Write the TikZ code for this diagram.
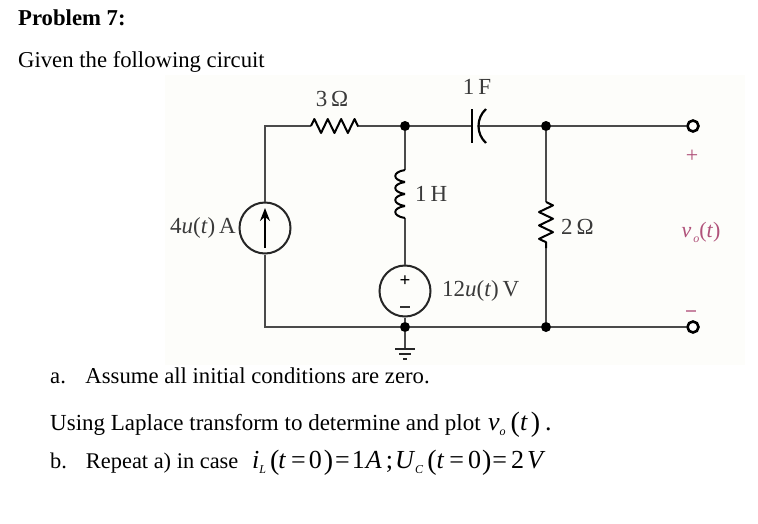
\documentclass[tikz,border=0pt]{standalone}
\usepackage{fontspec}
\setmainfont{Liberation Serif}
\usetikzlibrary{positioning,arrows.meta,decorations.pathmorphing}
\definecolor{wire}{HTML}{4A4A4A}
\definecolor{labelgrey}{HTML}{3A3A3A}
\definecolor{outputred}{HTML}{B0527A}
\definecolor{paper}{HTML}{FDFDFA}
\newcommand{\lowidx}[1]{\raisebox{-5pt}{\fontsize{12}{12}\selectfont\textit{#1}}}
\newcommand{\tallparen}[1]{\raisebox{-1pt}{\fontsize{28}{28}\selectfont #1}}
\newcommand{\gap}[1]{\hspace{#1pt}}

\begin{document}
\begin{tikzpicture}[
        x=1pt,y=-1pt,
        body/.style={anchor=base west,inner sep=0pt,font=\fontsize{22.7}{24}\selectfont},
        heading/.style={body,font=\fontsize{22.7}{24}\selectfont\bfseries},
        formula/.style={anchor=base west,inner sep=0pt,font=\fontsize{26}{28}\selectfont},
        value/.style={inner sep=0pt,text=labelgrey,font=\fontsize{23}{26}\selectfont},
        output/.style={inner sep=0pt,text=outputred,font=\fontsize{22}{24}\selectfont},
        wirepath/.style={draw=wire,line width=2pt},
        joint/.style={circle,fill=black,inner sep=0pt,minimum size=10pt},
        terminal/.style={circle,draw=black,fill=white,line width=2.6pt,inner sep=0pt,minimum size=11pt},
        source/.style={circle,draw=black!85,line width=2pt,inner sep=0pt,minimum size=51pt},
        resistor/.style={draw=black,line width=2pt,line join=round,decorate,
            decoration={zigzag,segment length=13.4pt,amplitude=7pt}},
        inductor/.style={draw=black,line width=2pt,line join=round}
    ]
        \useasboundingbox (0,0) rectangle (758,523);
        \fill[paper] (165,75) rectangle (745,365);

        % Text
        \node (problem) at (18,25) [heading] {Problem 7:};
        \node (given) at (18,67) [body] {Given the following circuit};
        \node (parta) at (50,383) [body] {a.\gap{19.5}Assume all initial conditions are zero.};
        \node (using) at (50,430) [body,font=\fontsize{23}{24}\selectfont] {Using Laplace transform to determine and plot};
        \node (voft) at (488,430) [formula] {\textit{v}\lowidx{o}\gap{5}\tallparen{(}\textit{t}\gap{3}\tallparen{)}\gap{5}.};
        \node (partb) at (50,468) [body,font=\fontsize{22.4}{24}\selectfont] {b.\gap{19}Repeat a) in case};
        \node (initial) at (252,468) [formula] {\textit{i}\lowidx{L}\gap{4}\tallparen{(}\gap{-1}\textit{t}\gap{5}=\gap{3}0\gap{2}\tallparen{)}\gap{2}=\gap{2}1\gap{1}\textit{A}\gap{4};\gap{2}\textit{U}\lowidx{C}\gap{4}\tallparen{(}\textit{t}\gap{5}=\gap{4}0\gap{1}\tallparen{)}\gap{1}=\gap{4}2\gap{3}\textit{V}};

        % Corners and ends of the parts
        \coordinate (topleft) at (265,126);
        \coordinate (botleft) at (265,327);
        \coordinate (rthreein) at (311,126);
        \coordinate (rthreeout) at (358,126);
        \coordinate (lin) at (405,170);
        \coordinate (lout) at (405,218);
        \coordinate (capin) at (472,126);
        \coordinate (capout) at (479,126);
        \coordinate (rtwoin) at (546,202);
        \coordinate (rtwoout) at (546,248);
        \coordinate (earth) at (405,349);

        % Junctions
        \node (jtopmid) at (405,126) [joint] {};
        \node (jtopright) at (546,126) [joint] {};
        \node (jbotmid) at (405,327) [joint] {};
        \node (jbotright) at (546,327) [joint] {};
        \node (outplus) at (693,126) [terminal] {};
        \node (outminus) at (693,327) [terminal] {};

        % Sources
        \node (isource) at (265,228) [source] {};
        \node (vsource) at (405,291) [source] {};
        \node (vplus) at (405,281) {\bfseries\fontsize{19}{19}\selectfont +};
        \node (vminus) at (405,307) [inner sep=0pt,minimum width=10pt,minimum height=2.4pt,fill=black!80] {};
        \coordinate (arrowtail) at (265,248);
        \coordinate (arrowhead) at (265,208);
        \draw[-{Stealth[length=13pt,width=10pt]},line width=2pt] (arrowtail) -- (arrowhead);

        % Labels
        \node (rthreelabel) at (332,99) [value] {3\,Ω};
        \node (caplabel) at (477,87) [value] {1\,F};
        \node (llabel) [value,anchor=west] at (415,194) {1\,H};
        \node (rtwolabel) [value,anchor=west] at (561,227) {2\,Ω};
        \node (ilabel) [value,anchor=east] at (236,228) {4\textit{u}(\textit{t})\,A};
        \node (vlabel) [value,anchor=west] at (442,291) {12\textit{u}(\textit{t})\,V};
        \node (plussign) at (692,156) [output] {+};
        \node (vout) at (701,232) [output] {\textit{v\lowidx{\,o}}(\textit{t})};
        \node (minussign) at (691,311) [inner sep=0pt,minimum width=10pt,minimum height=1.2pt,fill=outputred!70] {};

        % Wires
        \draw[wirepath] (isource) -- (topleft) -- (rthreein);
        \draw[wirepath] (isource) -- (botleft) -- (jbotmid);
        \draw[wirepath] (rthreeout) -- (jtopmid);
        \draw[wirepath] (jtopmid) -- (capin);
        \draw[wirepath] (capout) -- (jtopright);
        \draw[wirepath] (jtopright) -- (outplus);
        \draw[wirepath] (jtopmid) -- (lin);
        \draw[wirepath] (lout) -- (vsource);
        \draw[wirepath] (vsource) -- (jbotmid);
        \draw[wirepath] (jtopright) -- (rtwoin);
        \draw[wirepath] (rtwoout) -- (jbotright);
        \draw[wirepath] (jbotmid) -- (jbotright);
        \draw[wirepath] (jbotright) -- (outminus);
        \draw[wirepath] (jbotmid) -- (earth);

        % Parts
        \draw[resistor] (rthreein) -- (rthreeout);
        \draw[resistor] (rtwoin) -- (rtwoout);
        \foreach \y in {170,182,194,206}
            \draw[inductor] (405,\y) .. controls (392,\y+2) and (392,\y+10) .. (405,\y+12);
        \draw[line width=2.2pt] (472,109) -- (472,143);
        \draw[line width=2.2pt] (486,109) .. controls (476,118) and (476,134) .. (486,143);

        % Ground
        \draw[line width=2pt,black!85] (395,349) -- (415,349);
        \draw[line width=2pt,black!85] (399,354) -- (411,354);
        \draw[line width=2pt,black!85] (403,359) -- (407,359);
    \end{tikzpicture}
\end{document}
